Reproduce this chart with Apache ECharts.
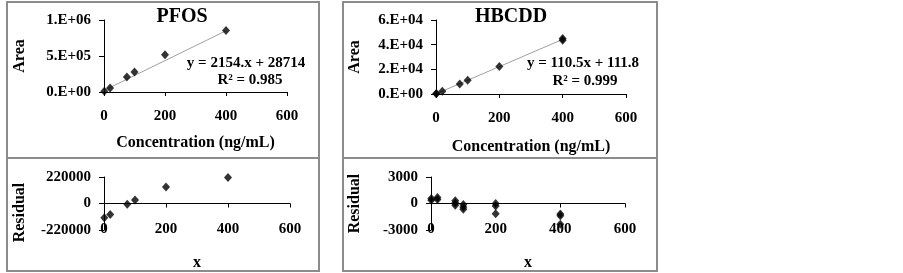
<!DOCTYPE html>
<html>
<head>
<meta charset="utf-8">
<script src="https://cdn.jsdelivr.net/npm/echarts@6/dist/echarts.min.js"></script>
<style>
  html, body { margin: 0; background: #fff; }
  #chart { width: 903px; height: 273px; }
</style>
</head>
<body>
<div id="chart"></div>
<script>
// PFOS calibration
const pfosConc = [1, 20, 75, 100, 200, 400]
const pfosArea = [10000, 56000, 208000, 278000, 519000, 853000]
const pfosResid = [-119000, -91000, -6000, 30000, 137000, 215000]
const pfosLineX = [0, 400]
const pfosLineY = [22000, 850000]

// HBCDD calibration
const hbcddConc = [1, 1, 20, 75, 100, 200, 400, 400]
const hbcddArea = [200, 400, 2200, 8100, 11100, 22200, 43500, 45000]
const hbcddResidConc = [1, 1, 20, 20, 75, 75, 75, 100, 100, 100, 200, 200, 200, 400, 400, 400]
const hbcddResid = [580, 380, 690, 460, 300, 70, -200, -120, -390, -660, 0, -280, -1150, -1200, -1400, -2350]
const hbcddLineX = [0, 400]
const hbcddLineY = [110, 44300]

// tick labels
const xTicks = ['0', '200', '400', '600']
const pfosAreaTicks = ['0.E+00', '5.E+05', '1.E+06']
const pfosResidTicks = ['-220000', '0', '220000']
const hbcddAreaTicks = ['0.E+00', '2.E+04', '4.E+04', '6.E+04']
const hbcddResidTicks = ['-3000', '0', '3000']

const FONT = 'Liberation Serif'
const zip = (xs, ys) => xs.map((x, i) => [x, ys[i]])
const txt = (size) => ({ color: '#000', fontFamily: FONT, fontWeight: 'bold', fontSize: size })

const tickFmt = (labels, min, step) => (v) => labels[Math.round((v - min) / step)]

const xAxis = (gridIndex, name, labelMargin, nameGap) => ({
  type: 'value',
  gridIndex,
  min: 0,
  max: 600,
  interval: 200,
  axisLine: { lineStyle: { color: '#000', width: 1 } },
  axisTick: { length: 4, lineStyle: { color: '#000' } },
  axisLabel: { ...txt(15), margin: labelMargin, hideOverlap: false, formatter: tickFmt(xTicks, 0, 200) },
  splitLine: { show: false },
  name,
  nameLocation: 'middle',
  nameGap,
  nameTextStyle: txt(16)
})

const yAxis = (gridIndex, min, max, step, labels, name, nameGap, namePad) => ({
  type: 'value',
  gridIndex,
  min,
  max,
  interval: step,
  axisLine: { show: true, lineStyle: { color: '#000', width: 1 } },
  axisTick: { show: true, length: 5, lineStyle: { color: '#000' } },
  axisLabel: { ...txt(15), margin: 13, hideOverlap: false, formatter: tickFmt(labels, min, step) },
  splitLine: { show: false },
  name,
  nameLocation: 'middle',
  nameGap,
  nameTextStyle: { ...txt(16), padding: namePad || 0 }
})

const dots = (xi, data) => ({
  type: 'scatter',
  xAxisIndex: xi,
  yAxisIndex: xi,
  data,
  symbol: 'diamond',
  symbolSize: [8, 9],
  itemStyle: { color: '#000' },
  z: 3
})

const trend = (xi, data) => ({
  type: 'line',
  xAxisIndex: xi,
  yAxisIndex: xi,
  data,
  showSymbol: false,
  lineStyle: { color: '#a0a0a0', width: 1 },
  z: 2
})

const label = (text, x, y, size) => ({
  type: 'text',
  x,
  y,
  style: {
    text,
    fill: '#000',
    font: `bold ${size}px "${FONT}"`,
    textAlign: 'center',
    textVerticalAlign: 'middle'
  }
})

const frame = (x, w) => [
  {
    type: 'rect',
    shape: { x, y: 2, width: w, height: 269 },
    style: { fill: 'none', stroke: '#8c8c8c', lineWidth: 2 }
  },
  {
    type: 'line',
    shape: { x1: x, y1: 158, x2: x + w, y2: 158 },
    style: { stroke: '#8c8c8c', lineWidth: 2 }
  }
]

const chart = echarts.init(document.getElementById('chart'))

chart.setOption({
  animation: false,
  backgroundColor: '#fff',
  grid: [
    { left: 104, top: 20, width: 183, height: 72, outerBoundsMode: 'none' },
    { left: 104, top: 177, width: 186, height: 53, outerBoundsMode: 'none' },
    { left: 436, top: 20, width: 190, height: 74, outerBoundsMode: 'none' },
    { left: 431, top: 177, width: 194, height: 53, outerBoundsMode: 'none' }
  ],
  xAxis: [
    xAxis(0, 'Concentration (ng/mL)', 17, 43),
    xAxis(1, 'x', -8, 25),
    xAxis(2, 'Concentration (ng/mL)', 17, 45),
    xAxis(3, 'x', -8, 25)
  ],
  yAxis: [
    yAxis(0, 0, 1000000, 500000, pfosAreaTicks, 'Area', 76),
    yAxis(1, -220000, 220000, 220000, pfosResidTicks, 'Residual', 76, [0, 18, 0, 0]),
    yAxis(2, 0, 60000, 20000, hbcddAreaTicks, 'Area', 73),
    yAxis(3, -3000, 3000, 3000, hbcddResidTicks, 'Residual', 68)
  ],
  series: [
    trend(0, zip(pfosLineX, pfosLineY)),
    dots(0, zip(pfosConc, pfosArea)),
    dots(1, zip(pfosConc, pfosResid)),
    trend(2, zip(hbcddLineX, hbcddLineY)),
    dots(2, zip(hbcddConc, hbcddArea)),
    dots(3, zip(hbcddResidConc, hbcddResid))
  ],
  graphic: [
    ...frame(7, 312),
    ...frame(343, 314),
    label('PFOS', 182, 17, 20),
    label('HBCDD', 511, 17, 20),
    label('y = 2154.x + 28714', 246, 63, 15),
    label('R² = 0.985', 250, 80, 15),
    label('y = 110.5x + 111.8', 583, 63, 15),
    label('R² = 0.999', 585, 81, 15)
  ]
})
</script>
</body>
</html>
